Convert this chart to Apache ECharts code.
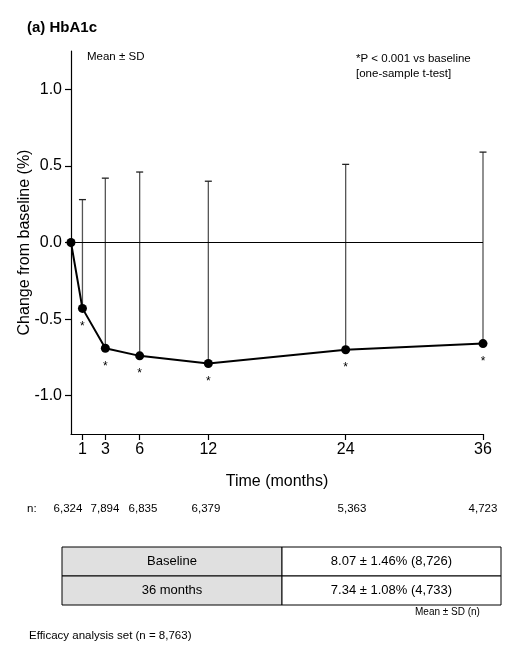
<!DOCTYPE html>
<html>
<head>
<meta charset="utf-8">
<script src="https://cdn.jsdelivr.net/npm/echarts@6/dist/echarts.min.js"></script>
<style>
  html, body { margin: 0; padding: 0; background: #fff; }
  #main { width: 521px; height: 654px; }
</style>
</head>
<body>
<div id="main"></div>
<script>
// data
var months = [0, 1, 3, 6, 12, 24, 36];
var meanChange = [0, -0.43, -0.69, -0.74, -0.79, -0.70, -0.66];
var sdChange = [null, 0.71, 1.11, 1.20, 1.19, 1.21, 1.25];
var tickMonths = [1, 3, 6, 12, 24, 36];
var yTicks = [-1.0, -0.5, 0.0, 0.5, 1.0];
var nLabels = ['6,324', '7,894', '6,835', '6,379', '5,363', '4,723'];
var nPosX = [68, 105, 143, 206, 352, 483];   // where the n counts sit
var tableRows = ['Baseline', '36 months'];
var tableVals = ['8.07 \u00b1 1.46% (8,726)', '7.34 \u00b1 1.08% (4,733)'];

var font = '"Liberation Sans", Arial, sans-serif';

var lineData = [];
var barData = [];
for (var i = 0; i < months.length; i++) {
    lineData.push([months[i], meanChange[i]]);
    if (sdChange[i] != null) {
        barData.push([months[i], meanChange[i], sdChange[i]]);
    }
}

function renderBar(params, api) {
    var x = api.value(0), m = api.value(1), sd = api.value(2);
    var p0 = api.coord([x, m]);
    var p1 = api.coord([x, m + sd]);
    return {
        type: 'group',
        children: [
            { type: 'line', shape: { x1: p0[0], y1: p0[1], x2: p1[0], y2: p1[1] },
              style: { stroke: '#555', lineWidth: 1.3 } },
            { type: 'line', shape: { x1: p1[0] - 3.5, y1: p1[1], x2: p1[0] + 3.5, y2: p1[1] },
              style: { stroke: '#222', lineWidth: 1.3 } },
            { type: 'text', style: { text: '*', x: p0[0], y: p0[1] + 12, align: 'center',
              verticalAlign: 'top', fontSize: 12, fontFamily: font, fill: '#000' } }
        ]
    };
}

var graphics = [
    { type: 'text', left: 27, top: 20, style: { text: '(a) HbA1c', fontSize: 15, fontWeight: 'bold', fontFamily: font, fill: '#000' } },
    { type: 'text', left: 87, top: 51, style: { text: 'Mean \u00b1 SD', fontSize: 11.5, fontFamily: font, fill: '#000' } },
    { type: 'text', left: 356, top: 51, style: { text: '*P < 0.001 vs baseline\n[one-sample t-test]', fontSize: 11.5, lineHeight: 15, fontFamily: font, fill: '#000' } },
    { type: 'text', left: 27, top: 503, style: { text: 'n:', fontSize: 11.5, fontFamily: font, fill: '#000' } },
    { type: 'text', left: 29, top: 630, style: { text: 'Efficacy analysis set (n = 8,763)', fontSize: 11.5, fontFamily: font, fill: '#000' } },
    { type: 'text', left: 415, top: 607, style: { text: 'Mean \u00b1 SD (n)', fontSize: 10, fontFamily: font, fill: '#000' } }
];
for (var k = 0; k < nLabels.length; k++) {
    graphics.push({ type: 'text', x: nPosX[k], y: 509,
        style: { text: nLabels[k], align: 'center', verticalAlign: 'middle', fontSize: 11.5, fontFamily: font, fill: '#000' } });
}
// table
var tx0 = 62, tx1 = 282, tx2 = 501, ty0 = 547, rowH = 29;
for (var r = 0; r < tableRows.length; r++) {
    var y = ty0 + r * rowH;
    graphics.push({ type: 'rect', shape: { x: tx0, y: y, width: tx1 - tx0, height: rowH },
        style: { fill: '#e0e0e0', stroke: '#000', lineWidth: 1 } });
    graphics.push({ type: 'rect', shape: { x: tx1, y: y, width: tx2 - tx1, height: rowH },
        style: { fill: '#fff', stroke: '#000', lineWidth: 1 } });
    graphics.push({ type: 'text', x: (tx0 + tx1) / 2, y: y + rowH / 2,
        style: { text: tableRows[r], align: 'center', verticalAlign: 'middle', fontSize: 13, fontFamily: font, fill: '#000' } });
    graphics.push({ type: 'text', x: (tx1 + tx2) / 2, y: y + rowH / 2,
        style: { text: tableVals[r], align: 'center', verticalAlign: 'middle', fontSize: 13, fontFamily: font, fill: '#000' } });
}

var myChart = echarts.init(document.getElementById('main'));
var option = {
    animation: false,
    backgroundColor: '#fff',
    grid: { left: 71, right: 38, top: 51, bottom: 220 },
    xAxis: {
        type: 'value',
        min: 0,
        max: 36,
        name: 'Time (months)',
        nameLocation: 'middle',
        nameGap: 40,
        nameMoveOverlap: false,
        nameTextStyle: { fontSize: 16, fontFamily: font, color: '#000' },
        axisLine: { show: true, onZero: false, lineStyle: { color: '#000', width: 1.2 } },
        axisTick: { show: true, length: 6, customValues: tickMonths, lineStyle: { color: '#000', width: 1.2 } },
        axisLabel: { customValues: tickMonths, fontSize: 16, fontFamily: font, color: '#000', margin: 8 },
        splitLine: { show: false }
    },
    yAxis: {
        type: 'value',
        min: -1.25,
        max: 1.25,
        name: 'Change from baseline (%)',
        nameLocation: 'middle',
        nameGap: 38,
        nameMoveOverlap: false,
        nameTextStyle: { fontSize: 16, fontFamily: font, color: '#000' },
        axisLine: { show: true, lineStyle: { color: '#000', width: 1.2 } },
        axisTick: { show: true, length: 6, customValues: yTicks, lineStyle: { color: '#000', width: 1.2 } },
        axisLabel: { customValues: yTicks, fontSize: 16, fontFamily: font, color: '#000', margin: 9,
            formatter: function (v) { return v.toFixed(1); } },
        splitLine: { show: false }
    },
    graphic: graphics,
    series: [
        {
            type: 'custom',
            renderItem: renderBar,
            data: barData,
            z: 1,
            silent: true
        },
        {
            type: 'line',
            data: lineData,
            z: 3,
            symbol: 'circle',
            symbolSize: 9,
            itemStyle: { color: '#000' },
            lineStyle: { color: '#000', width: 2 },
            markLine: {
                silent: true,
                symbol: 'none',
                label: { show: false },
                lineStyle: { color: '#000', width: 1.2, type: 'solid' },
                data: [{ yAxis: 0 }]
            }
        }
    ]
};
myChart.setOption(option);
</script>
</body>
</html>
